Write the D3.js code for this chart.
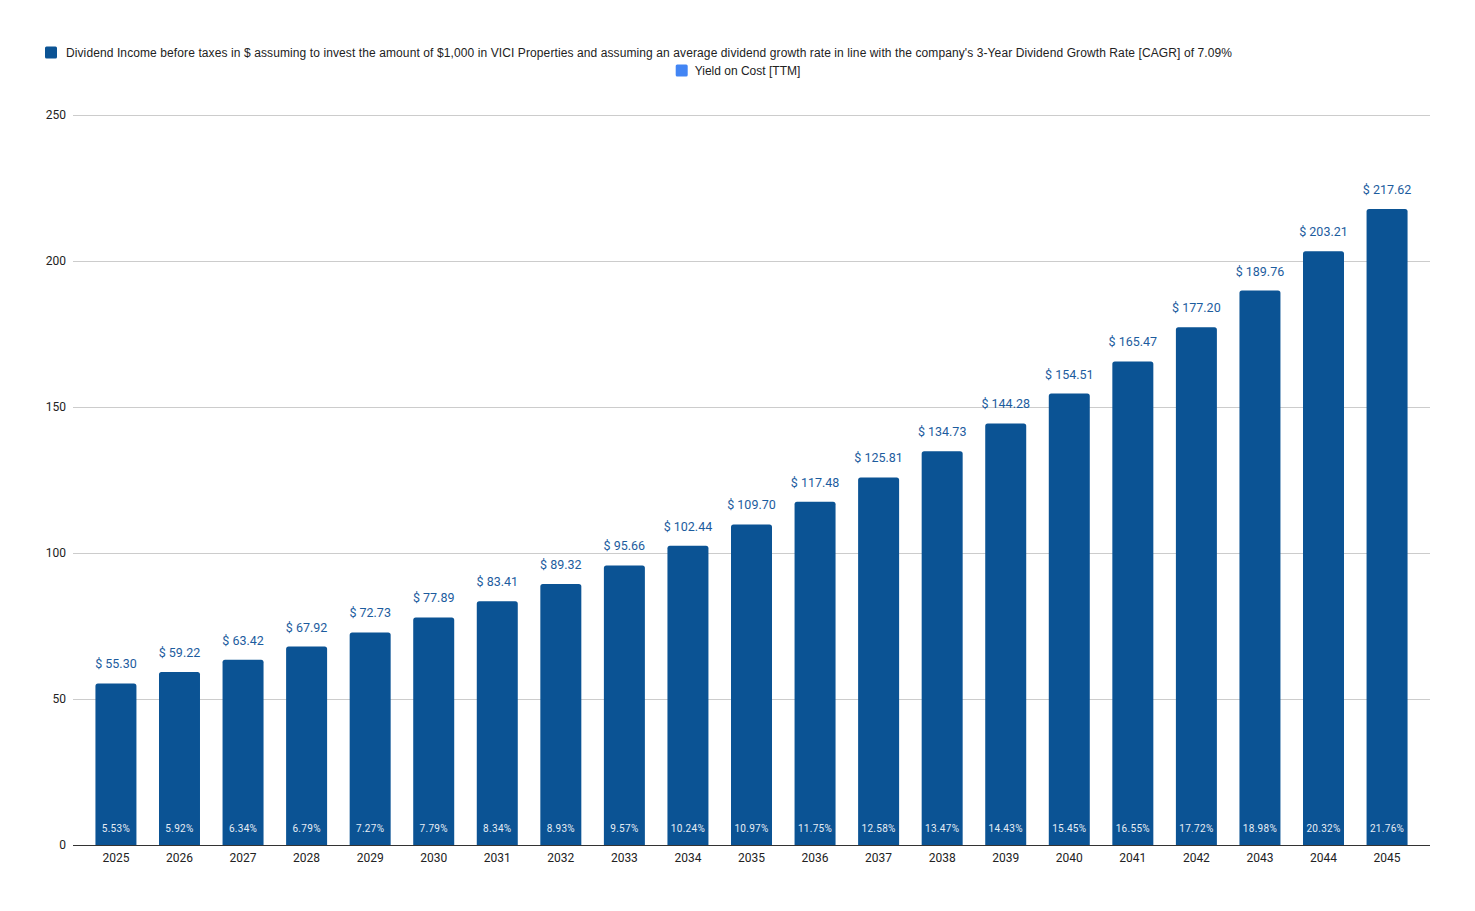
<!DOCTYPE html>
<html>
<head>
<meta charset="utf-8">
<script src="https://cdn.jsdelivr.net/npm/d3@7"></script>
<style>
	body { margin: 0; background: #fff; }
	.chart text { font-family: Roboto, "Liberation Sans", Arial, sans-serif; }
	.legend text { font-family: "Liberation Sans", Arial, sans-serif; font-size: 12px; fill: #222; }
</style>
</head>
<body>
<svg class="chart"></svg>
<script>
/* Dividend income bar chart, VICI Properties */

var years = ["2025", "2026", "2027", "2028", "2029", "2030", "2031", "2032", "2033", "2034", "2035",
	"2036", "2037", "2038", "2039", "2040", "2041", "2042", "2043", "2044", "2045"];
var income = [55.30, 59.22, 63.42, 67.92, 72.73, 77.89, 83.41, 89.32, 95.66, 102.44, 109.70,
	117.48, 125.81, 134.73, 144.28, 154.51, 165.47, 177.20, 189.76, 203.21, 217.62];
var yieldOnCost = [5.53, 5.92, 6.34, 6.79, 7.27, 7.79, 8.34, 8.93, 9.57, 10.24, 10.97,
	11.75, 12.58, 13.47, 14.43, 15.45, 16.55, 17.72, 18.98, 20.32, 21.76];
var yTicks = [0, 50, 100, 150, 200, 250];
var seriesNames = [
	"Dividend Income before taxes in $ assuming to invest the amount of $1,000 in VICI Properties and assuming an average dividend growth rate in line with the company's 3-Year Dividend Growth Rate [CAGR] of 7.09%",
	"Yield on Cost [TTM]"
];

function drawChart() {
	var W = 1475, H = 911;
	var barColor = "#0b5394", yocColor = "#4285f4";
	var gridLeft = 73, gridRight = 1430;

	var data = years.map(function(y, i) {
		return {year: y, value: income[i], yoc: yieldOnCost[i]};
	});

	var svg = d3.select(".chart")
		.attr("width", W)
		.attr("height", H);

	var x = d3.scaleBand()
		.domain(years)
		.range([84, 1419])
		.paddingInner(0.355)
		.paddingOuter(0.18);

	var y = d3.scaleLinear()
		.domain([0, 250])
		.range([845, 114.5]);

	// gridlines
	svg.append("g")
		.selectAll("line")
		.data(yTicks.slice(1))
	  .enter().append("line")
		.attr("x1", gridLeft)
		.attr("x2", gridRight)
		.attr("y1", function(d) { return Math.round(y(d)) + 0.5; })
		.attr("y2", function(d) { return Math.round(y(d)) + 0.5; })
		.attr("stroke", "#cccccc")
		.attr("stroke-width", 1);

	// y labels
	svg.append("g")
		.selectAll("text")
		.data(yTicks)
	  .enter().append("text")
		.attr("x", 66)
		.attr("y", function(d) { return y(d) + 4; })
		.attr("text-anchor", "end")
		.attr("font-size", 12)
		.attr("fill", "#222")
		.text(function(d) { return d; });

	// bars with slightly rounded tops
	var r = 2.5;
	svg.append("g")
		.selectAll("path")
		.data(data)
	  .enter().append("path")
		.attr("fill", barColor)
		.attr("d", function(d) {
			var x0 = x(d.year), x1 = x0 + x.bandwidth(), top = y(d.value), bot = y(0);
			return "M" + x0 + "," + bot +
				"V" + (top + r) +
				"Q" + x0 + "," + top + " " + (x0 + r) + "," + top +
				"H" + (x1 - r) +
				"Q" + x1 + "," + top + " " + x1 + "," + (top + r) +
				"V" + bot + "Z";
		});

	// value labels above bars
	svg.append("g")
		.selectAll("text")
		.data(data)
	  .enter().append("text")
		.attr("x", function(d) { return x(d.year) + x.bandwidth() / 2; })
		.attr("y", function(d) { return y(d.value) - 15; })
		.attr("text-anchor", "middle")
		.attr("font-size", 12.5)
		.attr("fill", "#1c5c9e")
		.text(function(d) { return "$ " + d.value.toFixed(2); });

	// yield on cost labels inside bars
	svg.append("g")
		.selectAll("text")
		.data(data)
	  .enter().append("text")
		.attr("x", function(d) { return x(d.year) + x.bandwidth() / 2; })
		.attr("y", 832)
		.attr("text-anchor", "middle")
		.attr("font-size", 10)
		.attr("letter-spacing", 0.3)
		.attr("fill", "#e6edf5")
		.text(function(d) { return d.yoc.toFixed(2) + "%"; });

	// x axis baseline
	svg.append("line")
		.attr("x1", gridLeft)
		.attr("x2", gridRight)
		.attr("y1", 845.5)
		.attr("y2", 845.5)
		.attr("stroke", "#333")
		.attr("stroke-width", 1);

	// year labels
	svg.append("g")
		.selectAll("text")
		.data(years)
	  .enter().append("text")
		.attr("x", function(d) { return x(d) + x.bandwidth() / 2; })
		.attr("y", 862)
		.attr("text-anchor", "middle")
		.attr("font-size", 12)
		.attr("fill", "#222")
		.text(function(d) { return d; });

	// legend
	var legend = svg.append("g").attr("class", "legend");
	legend.append("rect")
		.attr("x", 45).attr("y", 46.5)
		.attr("width", 12).attr("height", 12)
		.attr("rx", 1.5)
		.attr("fill", barColor);
	var t1 = legend.append("text")
		.attr("x", 66).attr("y", 57)
		.text(seriesNames[0]);
	// stretch the long legend line to the width it has in the original
	t1.attr("textLength", 1166).attr("lengthAdjust", "spacing");

	var row2 = legend.append("g");
	row2.append("rect")
		.attr("x", 0).attr("y", 64.5)
		.attr("width", 12).attr("height", 12)
		.attr("rx", 1.5)
		.attr("fill", yocColor);
	var t2 = row2.append("text")
		.attr("x", 19).attr("y", 75)
		.text(seriesNames[1]);
	var w2 = 19 + t2.node().getComputedTextLength();
	row2.attr("transform", "translate(" + (738 - w2 / 2) + ",0)");
}

drawChart();
</script>
</body>
</html>
